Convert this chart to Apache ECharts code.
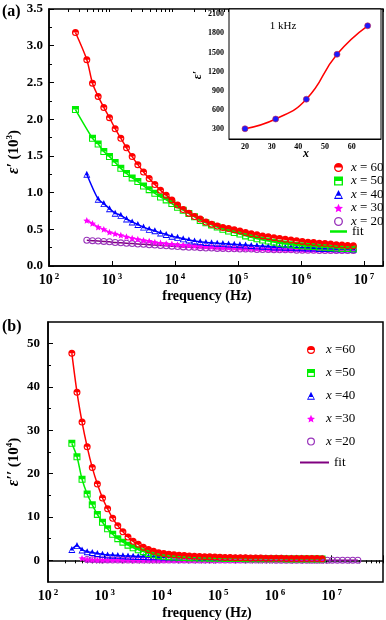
<!DOCTYPE html>
<html>
<head>
<meta charset="utf-8">
<script src="https://cdn.jsdelivr.net/npm/echarts@6/dist/echarts.min.js"></script>
<style>
  html, body { margin: 0; padding: 0; background: #fff; }
  #chart { width: 386px; height: 620px; }
</style>
</head>
<body>
<div id="chart"></div>
<script>
// measurement frequencies (Hz), shared by both panels
const freqHz = [263, 324, 398, 490, 603, 741, 912, 1122, 1380, 1698,
  2089, 2570, 3162, 3890, 4786, 5888, 7244, 8913, 10965, 13490,
  16596, 20417, 25119, 30903, 38019, 46774, 57544, 70795, 87096, 107152,
  131826, 162181, 199526, 245471, 301995, 371535, 457088, 562341, 691831, 851138,
  1047129, 1288250, 1584893, 1949845, 2398833, 2951209, 3630781, 4466836, 5495409, 6760830,
  8317638, 10232930, 12589254, 15488166, 19054607, 23442288, 28840315];

// (a) real permittivity, units of 10^3
const epsRe60 = [3.18, null, 2.81, 2.49, 2.31, 2.16, 2.02, 1.87, 1.74, 1.61,
  1.49, 1.38, 1.28, 1.19, 1.11, 1.03, 0.965, 0.90, 0.83, 0.77,
  0.72, 0.675, 0.64, 0.60, 0.57, 0.545, 0.525, 0.51, 0.495, 0.475,
  0.455, 0.44, 0.425, 0.41, 0.40, 0.385, 0.375, 0.365, 0.355, 0.345,
  0.335, 0.325, 0.32, 0.31, 0.305, 0.30, 0.29, 0.285, 0.28, 0.275];
const epsRe50 = [2.13, null, null, 1.74, 1.66, 1.56, 1.49, 1.41, 1.33, 1.26,
  1.20, 1.15, 1.09, 1.04, 0.99, 0.94, 0.90, 0.85, 0.80, 0.76,
  0.715, 0.67, 0.62, 0.59, 0.56, 0.53, 0.50, 0.475, 0.455, 0.435,
  0.41, 0.39, 0.37, 0.355, 0.34, 0.325, 0.31, 0.30, 0.29, 0.28,
  0.275, 0.27, 0.265, 0.26, 0.255, 0.25, 0.245, 0.24, 0.24, 0.235];
const epsRe40 = [null, null, 1.25, null, 0.91, 0.85, 0.78, 0.72, 0.69, 0.64,
  0.60, 0.565, 0.53, 0.50, 0.48, 0.45, 0.43, 0.405, 0.39, 0.37,
  0.355, 0.34, 0.33, 0.32, 0.315, 0.31, 0.305, 0.30, 0.295, 0.29,
  0.285, 0.28, 0.275, 0.27, 0.265, 0.26, 0.26, 0.255, 0.255, 0.25,
  0.25, 0.245, 0.245, 0.24, 0.24, 0.24, 0.235, 0.235, 0.235, 0.23];
const epsRe30 = [null, null, 0.62, 0.58, 0.53, 0.50, 0.46, 0.44, 0.42, 0.40,
  0.38, 0.365, 0.35, 0.34, 0.325, 0.315, 0.305, 0.30, 0.29, 0.285,
  0.28, 0.275, 0.27, 0.265, 0.26, 0.255, 0.25, 0.25, 0.245, 0.245,
  0.24, 0.24, 0.235, 0.235, 0.23, 0.23, 0.23, 0.225, 0.225, 0.225,
  0.22, 0.22, 0.22, 0.22, 0.22, 0.215, 0.215, 0.215, 0.215, 0.215];
const epsRe20 = [null, null, 0.35, 0.345, 0.34, 0.335, 0.33, 0.32, 0.315, 0.31,
  0.305, 0.30, 0.295, 0.29, 0.285, 0.28, 0.275, 0.27, 0.265, 0.26,
  0.255, 0.255, 0.25, 0.245, 0.245, 0.24, 0.24, 0.235, 0.235, 0.23,
  0.23, 0.23, 0.225, 0.225, 0.225, 0.22, 0.22, 0.22, 0.22, 0.215,
  0.215, 0.215, 0.215, 0.21, 0.21, 0.21, 0.21, 0.21, 0.21, 0.21];

// (b) imaginary permittivity, units of 10^4
const epsIm60 = [47.8, 38.8, 31.9, 26.2, 21.4, 17.6, 14.4, 11.9, 9.7, 8.0,
  6.6, 5.4, 4.4, 3.7, 3.0, 2.5, 2.1, 1.75, 1.55, 1.4,
  1.3, 1.2, 1.1, 1.0, 0.95, 0.9, 0.85, 0.8, 0.75, 0.7,
  0.68, 0.65, 0.62, 0.6, 0.57, 0.55, 0.53, 0.52, 0.5, 0.48,
  0.47, 0.46, 0.45, 0.44, 0.43, 0.42, 0.41, 0.4, 0.4, 0.39];
const epsIm50 = [27.0, 23.9, 18.7, 15.3, 12.8, 10.6, 8.8, 7.3, 6.0, 5.0,
  4.2, 3.5, 2.9, 2.45, 2.0, 1.6, 1.3, 1.08, 0.95, 0.85,
  0.78, 0.72, 0.66, 0.62, 0.58, 0.55, 0.52, 0.5, 0.48, 0.46,
  0.44, 0.42, 0.41, 0.4, 0.39, 0.38, 0.37, 0.36, 0.35, 0.35,
  0.34, 0.34, 0.33, 0.33, 0.32, 0.32, 0.31, 0.31, 0.3, 0.3];
const epsIm40 = [2.5, 3.4, 2.4, 2.0, 1.8, 1.6, 1.4, 1.25, 1.2, 1.1,
  1.05, 1.0, 0.95, 0.9, 0.88, 0.85, 0.82, 0.8, 0.78, 0.76,
  0.74, 0.72, 0.7, 0.68, 0.67, 0.66, 0.65, 0.64, 0.63, 0.62,
  0.61, 0.6, 0.59, 0.58, 0.57, 0.56, 0.55, 0.55, 0.54, 0.54,
  0.53, 0.53, 0.52, 0.52, 0.51, 0.51, 0.5, 0.5, 0.5, 0.5];
const epsIm30 = [null, null, 0.5, 0.2, 0.15, 0.12, 0.1, 0.1, 0.08, 0.08,
  0.07, 0.07, 0.06, 0.06, 0.06, 0.05, 0.05, 0.05, 0.05, 0.05,
  0.05, 0.05, 0.05, 0.05, 0.05, 0.05, 0.05, 0.05, 0.05, 0.05,
  0.05, 0.05, 0.05, 0.05, 0.05, 0.05, 0.05, 0.05, 0.05, 0.05,
  0.05, 0.05, 0.05, 0.05, 0.05, 0.05, 0.05, 0.05, 0.05, 0.05];
const epsIm20 = [null, null, null, 0.2, 0.15, 0.12, 0.1, 0.1, 0.09, 0.09,
  0.08, 0.08, 0.07, 0.07, 0.07, 0.06, 0.06, 0.06, 0.06, 0.06,
  0.06, 0.06, 0.06, 0.06, 0.06, 0.05, 0.05, 0.05, 0.05, 0.05,
  0.05, 0.05, 0.05, 0.05, 0.05, 0.05, 0.05, 0.05, 0.05, 0.05,
  0.04, 0.04, 0.04, 0.04, 0.04, 0.04, 0.04, 0.04, 0.04, 0.04,
  0.04, 0.04, 0.04, 0.04, 0.04, 0.04, 0.04];

// inset: epsilon' at 1 kHz vs x
const insetX = [20, 31.5, 43, 54.5, 66];
const insetEps = [310, 462, 771, 1473, 1918];

const namesA = ['x = 60', 'x = 50', 'x = 40', 'x = 30', 'x = 20'];
const namesB = ['x =60', 'x =50', 'x =40', 'x =30', 'x =20'];
const imTicks = [0, 10, 20, 30, 40, 50];
const imMinorTicks = [5, 15, 25, 35, 45];
const insetTicksX = [20, 30, 40, 50, 60];
const insetTicksY = [300, 600, 900, 1200, 1500, 1800, 2100];

const SERIF = 'Liberation Serif';
const markColors = ['#ff0000', '#00ee00', '#0000ff', '#ff00ff', '#9933bb'];
const lineColors = ['#ff0000', '#00ee00', '#0000ff', '#ff00ff', '#800080'];
const symbols = [
  'path://M0,10 A10,10 0 0,1 20,10 Z M0,10 A10,10 0 0,0 20,10 L17,10 A7,7 0 0,1 3,10 Z',
  'path://M0,0 L20,0 L20,10 L0,10 Z M0,10 L0,20 L20,20 L20,10 L17,10 L17,17 L3,17 L3,10 Z',
  'path://M10,0 L16.5,13 L3.5,13 Z M3.5,13 L0,20 L20,20 L16.5,13 L14.5,13 L16.6,17.4 L3.4,17.4 L5.5,13 Z',
  'path://M10,0 L12.9,6.9 L20,7.6 L14.6,12.3 L16.2,19.3 L10,15.6 L3.8,19.3 L5.4,12.3 L0,7.6 L7.1,6.9 Z',
  'path://M0,10 A10,10 0 1,1 20,10 A10,10 0 1,1 0,10 Z M3,10 A7,7 0 1,0 17,10 A7,7 0 1,0 3,10 Z'
];

// minor tick positions (decade exponents) for the log axes
const minorExp = [];
for (let e = 2; e <= 7; e++) {
  for (let m = 2; m <= 9; m++) minorExp.push(Math.log10(m * Math.pow(10, e)));
}

function toPoints(vals) {
  const pts = [];
  vals.forEach((v, i) => { if (v !== null) pts.push([freqHz[i], v]); });
  return pts;
}

function dataSeries(name, vals, k, xi, yi) {
  return {
    type: 'line', name, xAxisIndex: xi, yAxisIndex: yi,
    data: toPoints(vals), smooth: 0.3,
    symbol: symbols[k], symbolSize: 7, symbolKeepAspect: true, showAllSymbol: true,
    itemStyle: { color: markColors[k], borderWidth: 0 },
    lineStyle: { color: lineColors[k], width: 1.5 },
    z: 10 - k
  };
}

const powLabel = {
  formatter: v => {
    const e = Math.log10(v);
    if (Math.abs(e - Math.round(e)) > 0.01) return '';
    return '{b|10}{s|' + Math.round(e) + '}';
  },
  margin: 6,
  rich: {
    b: { fontFamily: SERIF, fontWeight: 'bold', fontSize: 14, color: '#000', lineHeight: 16 },
    s: { fontFamily: SERIF, fontWeight: 'bold', fontSize: 9, color: '#000', verticalAlign: 'top', lineHeight: 16, padding: [0, 0, 0, 2] }
  }
};
const axisLineStyle = { show: true, lineStyle: { color: '#000', width: 1.5 } };
const boldLabel = { fontFamily: SERIF, fontWeight: 'bold', fontSize: 13, color: '#000' };

// main log axis plus a plain overlay axis (in decades) that carries the 2..9 minor ticks
function logAxes(grid, max) {
  return [{
    type: 'log', logBase: 10, gridIndex: grid, min: 100, max: max,
    axisLine: axisLineStyle, splitLine: { show: false },
    axisTick: { inside: true, length: 5, lineStyle: { color: '#000', width: 1 } },
    axisLabel: powLabel
  }, {
    type: 'value', gridIndex: grid, min: 2, max: Math.log10(max),
    axisLine: { show: false }, splitLine: { show: false }, axisLabel: { show: false },
    axisTick: { inside: true, length: 3, customValues: minorExp, lineStyle: { color: '#000', width: 1 } }
  }];
}

function legendFormatter(name) {
  if (name.indexOf('fit') === 0) return 'fit';
  return '{i|x}' + name.slice(1);
}
const legendText = {
  fontFamily: SERIF, fontSize: 13, color: '#000', lineHeight: 11.5,
  rich: { i: { fontFamily: SERIF, fontStyle: 'italic', fontSize: 13, color: '#000', lineHeight: 11.5 } }
};

const series = [];
[epsRe60, epsRe50, epsRe40, epsRe30, epsRe20].forEach((v, k) => series.push(dataSeries(namesA[k], v, k, 0, 0)));
[epsIm60, epsIm50, epsIm40, epsIm30, epsIm20].forEach((v, k) => series.push(dataSeries(namesB[k], v, k, 2, 1)));
series.push({ type: 'line', name: 'fit', xAxisIndex: 0, yAxisIndex: 0, data: [], itemStyle: { color: '#00ee00' } });
series.push({ type: 'line', name: 'fit ', xAxisIndex: 2, yAxisIndex: 1, data: [], itemStyle: { color: '#800080' } });
series.push({
  type: 'line', xAxisIndex: 4, yAxisIndex: 3,
  data: insetX.map((x, i) => [x, insetEps[i]]), smooth: 0.5,
  symbol: 'circle', symbolSize: 6,
  itemStyle: { color: '#1a1aff', borderColor: '#cc2244', borderWidth: 0.6 },
  lineStyle: { color: '#ff0000', width: 1.5 }, z: 20
});

const chart = echarts.init(document.getElementById('chart'), null, { renderer: 'canvas' });
chart.setOption({
  animation: false,
  backgroundColor: '#fff',
  grid: [
    { left: 49, top: 9, width: 335, height: 257, show: true, borderColor: '#000', borderWidth: 1.5 },
    { left: 48, top: 322, width: 336, height: 260, show: true, borderColor: '#000', borderWidth: 1.5 },
    { left: 229, top: 9, width: 152, height: 130, show: true, borderColor: '#000', borderWidth: 1, backgroundColor: '#fff', z: 5 }
  ],
  xAxis: [
    ...logAxes(0, 2e7),
    ...logAxes(1, 8e7),
    {
      type: 'value', gridIndex: 2, min: 14, max: 71,
      axisLine: { show: true, lineStyle: { color: '#000', width: 1 } }, splitLine: { show: false },
      axisTick: { inside: true, length: 3, customValues: insetTicksX },
      axisLabel: { customValues: insetTicksX, margin: 4, fontFamily: SERIF, fontWeight: 'bold', fontSize: 8, color: '#000' }
    }
  ],
  yAxis: [
    {
      type: 'value', gridIndex: 0, min: 0, max: 3.5, interval: 0.5,
      axisLine: axisLineStyle, splitLine: { show: false },
      axisTick: { inside: true, length: 5, lineStyle: { color: '#000', width: 1 } },
      minorTick: { show: true, splitNumber: 2, length: 3, lineStyle: { color: '#000', width: 1 } },
      axisLabel: Object.assign({ margin: 6, formatter: v => v.toFixed(1) }, boldLabel)
    },
    {
      type: 'value', gridIndex: 1, min: -5, max: 55, interval: 5,
      axisLine: axisLineStyle, splitLine: { show: false },
      axisTick: { inside: true, length: 5, customValues: imTicks, lineStyle: { color: '#000', width: 1 } },
      axisLabel: Object.assign({ margin: 8, customValues: imTicks }, boldLabel)
    },
    {
      type: 'value', gridIndex: 1, min: -5, max: 55, interval: 5, position: 'left', offset: 0,
      axisLine: { show: false }, splitLine: { show: false }, axisLabel: { show: false },
      axisTick: { inside: true, length: 3, customValues: imMinorTicks, lineStyle: { color: '#000', width: 1 } }
    },
    {
      type: 'value', gridIndex: 2, min: 150, max: 2180,
      axisLine: { show: true, lineStyle: { color: '#000', width: 1 } }, splitLine: { show: false },
      axisTick: { inside: true, length: 3, customValues: insetTicksY },
      axisLabel: { customValues: insetTicksY, formatter: v => String(v), margin: 5, fontFamily: SERIF, fontWeight: 'bold', fontSize: 8, color: '#000' }
    }
  ],
  legend: [
    {
      data: namesA.map((n, k) => ({ name: n, icon: symbols[k] })),
      orient: 'vertical', left: 329, top: 156, itemWidth: 9, itemHeight: 9, itemGap: 0.5,
      formatter: legendFormatter, textStyle: Object.assign({ padding: [0, 0, 0, 3] }, legendText),
      selectedMode: false
    },
    {
      data: [{ name: 'fit', icon: 'rect' }],
      orient: 'vertical', left: 325, top: 220, itemWidth: 17, itemHeight: 2.5,
      formatter: legendFormatter, textStyle: legendText, selectedMode: false
    },
    {
      data: namesB.map((n, k) => ({ name: n, icon: symbols[k] })),
      orient: 'vertical', left: 302, top: 338.5, itemWidth: 8, itemHeight: 8, itemGap: 9.9,
      formatter: legendFormatter, textStyle: Object.assign({ padding: [0, 0, 0, 6] }, legendText),
      selectedMode: false
    },
    {
      data: [{ name: 'fit ', icon: 'rect' }],
      orient: 'vertical', left: 295, top: 451, itemWidth: 29, itemHeight: 2,
      formatter: legendFormatter, textStyle: legendText, selectedMode: false
    }
  ],
  graphic: [
    { type: 'text', left: 2, top: 4, style: { text: '(a)', font: 'bold 16px "Liberation Serif"', fill: '#000' } },
    { type: 'text', left: 2, top: 319, style: { text: '(b)', font: 'bold 16px "Liberation Serif"', fill: '#000' } },
    {
      type: 'text', x: 14, y: 152, rotation: Math.PI / 2,
      style: {
        text: '{e|ε′} {b|(10}{s|3}{b|)}', align: 'center', verticalAlign: 'middle',
        rich: {
          e: { font: 'italic bold 16px "Liberation Serif"', fill: '#000', lineHeight: 18 },
          b: { font: 'bold 15px "Liberation Serif"', fill: '#000', lineHeight: 18 },
          s: { font: 'bold 9px "Liberation Serif"', fill: '#000', verticalAlign: 'top', lineHeight: 18 }
        }
      }
    },
    {
      type: 'text', x: 14, y: 462, rotation: Math.PI / 2,
      style: {
        text: '{e|ε′′} {b|(10}{s|4}{b|)}', align: 'center', verticalAlign: 'middle',
        rich: {
          e: { font: 'italic bold 16px "Liberation Serif"', fill: '#000', lineHeight: 18 },
          b: { font: 'bold 15px "Liberation Serif"', fill: '#000', lineHeight: 18 },
          s: { font: 'bold 9px "Liberation Serif"', fill: '#000', verticalAlign: 'top', lineHeight: 18 }
        }
      }
    },
    { type: 'text', x: 207, y: 296, style: { text: 'frequency (Hz)', align: 'center', verticalAlign: 'middle', font: 'bold 14px "Liberation Serif"', fill: '#000' } },
    { type: 'text', x: 207, y: 613, style: { text: 'frequency (Hz)', align: 'center', verticalAlign: 'middle', font: 'bold 14px "Liberation Serif"', fill: '#000' } },
    { type: 'text', x: 283, y: 26, z: 30, style: { text: '1 kHz', align: 'center', verticalAlign: 'middle', font: '11px "Liberation Serif"', fill: '#000' } },
    { type: 'text', x: 198, y: 75, rotation: Math.PI / 2, z: 30, style: { text: 'ε′', align: 'center', verticalAlign: 'middle', font: 'italic bold 12px "Liberation Serif"', fill: '#000' } },
    { type: 'text', x: 306, y: 154, z: 30, style: { text: 'x', align: 'center', verticalAlign: 'middle', font: 'italic bold 12px "Liberation Serif"', fill: '#000' } }
  ],
  series
});
</script>
</body>
</html>
